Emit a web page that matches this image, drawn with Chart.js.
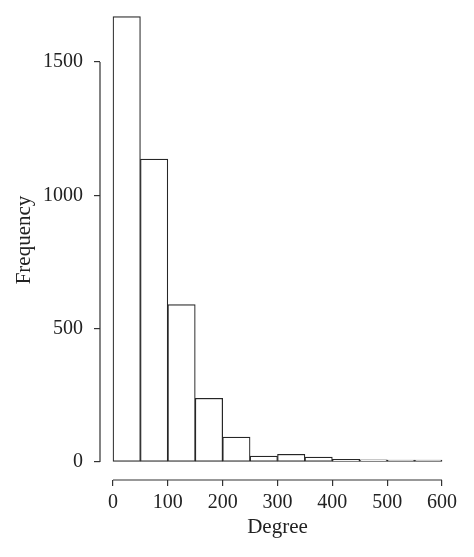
<!DOCTYPE html>
<html>
<head>
<meta charset="utf-8">
<script src="https://cdn.jsdelivr.net/npm/chart.js@4/dist/chart.umd.min.js"></script>
<style>
  html, body { margin: 0; padding: 0; background: #fff; }
  #wrap { width: 474px; height: 557px; position: relative; }
</style>
</head>
<body>
<div id="wrap"><canvas id="c"></canvas></div>
<script>
// Histogram data (bins of width 50)
const binStarts = [0, 50, 100, 150, 200, 250, 300, 350, 400, 450, 500, 550];
const binWidth = 50;
const frequencies = [1670, 1136, 590, 239, 93, 22, 29, 18, 10, 8, 7, 7];
const xTickValues = [0, 100, 200, 300, 400, 500, 600];
const yTickValues = [0, 500, 1000, 1500];
const xTitle = 'Degree';
const yTitle = 'Frequency';

const FONT = "'Liberation Serif', 'Times New Roman', serif";
const INK = '#333333';

const barData = binStarts.map((s, i) => ({ x: s + binWidth / 2, y: frequencies[i] }));

// Draws R-style detached axis lines spanning first to last tick
const axisLines = {
  id: 'axisLines',
  afterDraw(chart) {
    const ctx = chart.ctx;
    const xs = chart.scales.x, ys = chart.scales.y;
    ctx.save();
    ctx.strokeStyle = INK;
    ctx.lineWidth = 1.2;
    ctx.beginPath();
    const yTop = ys.getPixelForValue(yTickValues[yTickValues.length - 1]);
    const yBot = ys.getPixelForValue(yTickValues[0]);
    ctx.moveTo(ys.right, yTop);
    ctx.lineTo(ys.right, yBot);
    const xL = xs.getPixelForValue(xTickValues[0]);
    const xR = xs.getPixelForValue(xTickValues[xTickValues.length - 1]);
    ctx.moveTo(xL, xs.top);
    ctx.lineTo(xR, xs.top);
    ctx.stroke();
    ctx.restore();
  }
};

new Chart(document.getElementById('c'), {
  type: 'bar',
  data: {
    datasets: [{
      data: barData,
      backgroundColor: '#ffffff',
      borderColor: '#262626',
      borderWidth: 1.2,
      barPercentage: 1,
      categoryPercentage: 1,
      borderSkipped: false
    }]
  },
  options: {
    responsive: true,
    maintainAspectRatio: false,
    animation: false,
    layout: { padding: { top: 0, right: 19, left: 0, bottom: 0 } },
    plugins: { legend: { display: false }, tooltip: { enabled: false } },
    scales: {
      x: {
        type: 'linear',
        offset: false,
        min: -23.7,
        max: 623.7,
        afterBuildTicks(s) { s.ticks = xTickValues.map(v => ({ value: v })); },
        afterFit(s) { s.height = 77; s.paddingLeft = 0; s.paddingRight = 0; },
        border: { display: false },
        grid: { display: true, offset: false, drawOnChartArea: false, drawTicks: true, tickLength: 6, color: INK, lineWidth: 1.2 },
        ticks: { color: '#222', font: { family: FONT, size: 20 }, padding: 5, maxRotation: 0, autoSkip: false, callback: v => String(v) },
        title: { display: true, text: xTitle, color: '#222', font: { family: FONT, size: 21 }, padding: { top: 0, bottom: 17 } }
      },
      y: {
        type: 'linear',
        min: -67.5,
        max: 1732.5,
        afterBuildTicks(s) { s.ticks = yTickValues.map(v => ({ value: v })); },
        afterFit(s) { s.width = 100; s.paddingTop = 0; s.paddingBottom = 0; },
        border: { display: false },
        grid: { display: true, drawOnChartArea: false, drawTicks: true, tickLength: 6, color: INK, lineWidth: 1.2 },
        ticks: { color: '#222', font: { family: FONT, size: 20 }, padding: 11, autoSkip: false, callback: v => String(v) },
        title: { display: true, text: yTitle, color: '#222', font: { family: FONT, size: 21 }, padding: { top: 12, bottom: 0 } }
      }
    }
  },
  plugins: [axisLines]
});
</script>
</body>
</html>
